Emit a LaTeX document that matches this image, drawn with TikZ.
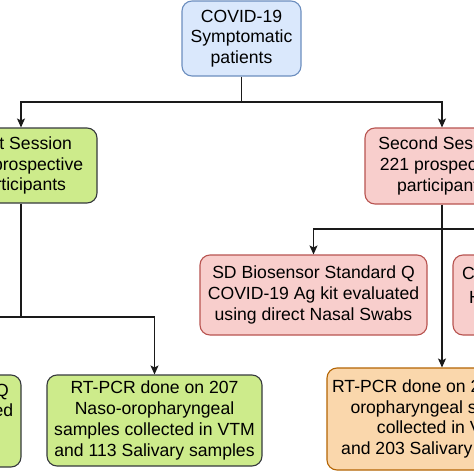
\documentclass[tikz,border=0pt]{standalone}
\usepackage{fontspec}
\setmainfont{Liberation Sans}
\usetikzlibrary{arrows.meta}
\definecolor{bluefill}{HTML}{DAE8FC}
\definecolor{bluedraw}{HTML}{6C8EBF}
\definecolor{greenfill}{HTML}{CDEB8B}
\definecolor{greendraw}{HTML}{36393D}
\definecolor{pinkfill}{HTML}{F8CECC}
\definecolor{pinkdraw}{HTML}{B85450}
\definecolor{orangefill}{HTML}{FAD7AC}
\definecolor{orangedraw}{HTML}{B46504}
\definecolor{linecol}{HTML}{1A1A1A}
\tikzset{
  boxbase/.style={rounded corners=10pt, line width=1.1pt, align=center, inner sep=0pt,
     font=\fontsize{17.6}{20.8}\selectfont, text=black},
  bluebox/.style={boxbase, fill=bluefill, draw=bluedraw},
  greenbox/.style={boxbase, fill=greenfill, draw=greendraw},
  pinkbox/.style={boxbase, fill=pinkfill, draw=pinkdraw},
  orangebox/.style={boxbase, fill=orangefill, draw=orangedraw},
  plaintext/.style={inner sep=0pt, font=\fontsize{17.6}{20.8}\selectfont, text=black},
  conn/.style={draw=linecol, line width=1.2pt},
  arrowconn/.style={conn, -{Stealth[length=9pt,width=8pt,inset=2pt]}},
}
\begin{document}
\begin{tikzpicture}[x=1pt,y=-1pt]
\useasboundingbox (0,0) rectangle (474,474);
\clip (0,0) rectangle (474,474);
\fill[white] (0,0) rectangle (474,474);

% nodes
\node[bluebox, minimum width=119pt, minimum height=75pt] (top) at (241.5,38.5)
  {COVID-19\\Symptomatic\\patients};
\node[greenbox, minimum width=152pt, minimum height=75pt] (s1) at (21,165.5)
  {First Session\\207 prospective\\participants};
\node[pinkbox, minimum width=154pt, minimum height=76pt] (s2) at (442,166)
  {Second Session\\221 prospective\\participants};
\node[pinkbox, minimum width=227pt, minimum height=80pt] (sdr) at (313.5,295)
  {SD Biosensor Standard Q\\COVID-19 Ag kit evaluated\\using direct Nasal Swabs};
\node[pinkbox, minimum width=227pt, minimum height=80pt] (cr) at (566.5,295) {};
\node[plaintext, anchor=base west] (crA) at (462,279) {C};
\node[plaintext, anchor=base west] (crB) at (469,303) {H};
\node[orangebox, minimum width=230pt, minimum height=102pt] (orp) at (442,419)
  {RT-PCR done on 221 Naso-\\oropharyngeal samples\\collected in VTM\\and 203 Salivary samples};
\node[greenbox, minimum width=215pt, minimum height=91pt] (gb) at (154.5,420.5)
  {RT-PCR done on 207\\Naso-oropharyngeal\\samples collected in VTM\\and 113 Salivary samples};
\node[greenbox, minimum width=227pt, minimum height=92pt] (lsd) at (-92.5,421)
  {SD Biosensor Standard Q\\COVID-19 Ag kit evaluated\\\mbox{}\\\mbox{}};

% junctions
\coordinate (j1) at (241.5,102);
\coordinate (j2) at (21,317);
\coordinate (j3) at (442,229);

% connectors
\draw[conn] (top.south) -- (j1);
\draw[arrowconn] (j1) -| (s1.north);
\draw[arrowconn] (j1) -| (s2.north);
\draw[conn] (s1.south) -- (j2);
\draw[arrowconn] (j2) -| (gb.north);
\draw[arrowconn] (j2) -| (lsd.north);
\draw[arrowconn] (s2.south) -- (orp.north);
\draw[arrowconn] (j3) -| (sdr.north);
\draw[arrowconn] (j3) -| (cr.north);
\end{tikzpicture}
\end{document}
